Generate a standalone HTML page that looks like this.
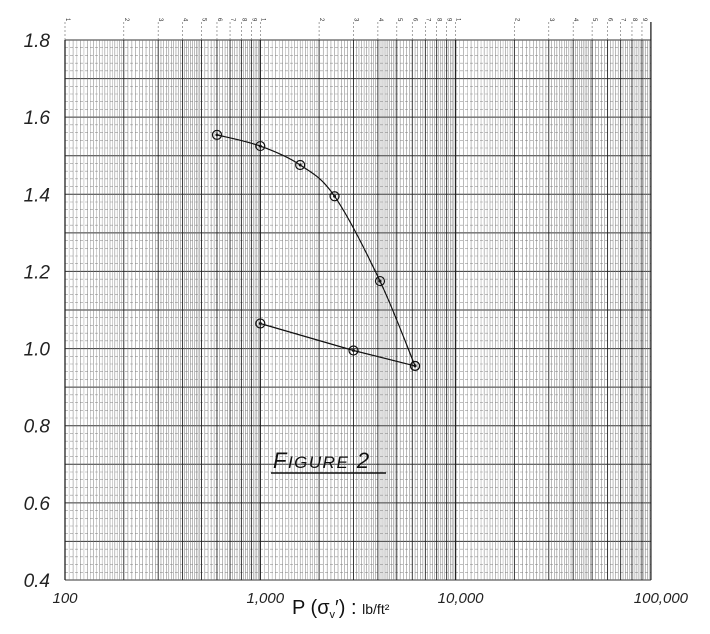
<!DOCTYPE html>
<html><head><meta charset="utf-8"><style>
html,body{margin:0;padding:0;background:#fff;}
svg{display:block;}
text{font-family:"Liberation Sans",sans-serif;}
</style></head><body>
<svg id="chart" width="710" height="634" viewBox="0 0 710 634" xmlns="http://www.w3.org/2000/svg">
<g id="grid"></g>
<g id="ticks"></g>
<g id="series"></g>
<text x="273" y="468" font-size="22" font-style="italic" letter-spacing="1.5" fill="#111">F<tspan font-size="17">IGURE</tspan> 2</text>
<line x1="271" y1="473" x2="386" y2="473" stroke="#111" stroke-width="1.5"/>
<text x="292" y="614" font-size="20" fill="#111">P (σ<tspan font-size="11" dy="4">v</tspan><tspan dy="-4">′</tspan>) : <tspan font-size="14">lb/ft²</tspan></text>
</svg>
<script>
const loadCurveP = [600, 1000, 1600, 2400, 4100, 6200];
const loadCurveE = [1.554, 1.525, 1.476, 1.395, 1.175, 0.955];
const unloadCurveP = [6200, 3000, 1000];
const unloadCurveE = [0.955, 0.995, 1.065];
const yTicks = [0.4, 0.6, 0.8, 1.0, 1.2, 1.4, 1.6, 1.8];
const yTickLabels = ["0.4","0.6","0.8","1.0","1.2","1.4","1.6","1.8"];
const xTicks = [100, 1000, 10000, 100000];
const xTickLabels = ["100","1,000","10,000","100,000"];

const NS="http://www.w3.org/2000/svg";
const X0=65, DEC=195.3, Y0=40, YB=580, YMAX=1.8, YMIN=0.4;
function xs(p){return X0+(Math.log10(p)-2)*DEC;}
function ys(e){return Y0+(YMAX-e)/(YMAX-YMIN)*(YB-Y0);}
function mk(tag,attrs,parent){const el=document.createElementNS(NS,tag);for(const k in attrs)el.setAttribute(k,attrs[k]);parent.appendChild(el);return el;}
const grid=document.getElementById('grid'), ticks=document.getElementById('ticks'), series=document.getElementById('series');
const XR=xs(100000);
for(let i=0;i<=70;i++){
  const e=YMIN+i*0.02, y=ys(e);
  const major = i%5===0;
  const l=mk('line',{x1:X0,x2:XR,y1:y,y2:y,stroke:major?'#333':'#999','stroke-width':major?1:0.6,'stroke-dasharray':major?'':'3 2'},grid);
  
  
}
for(let d=0;d<3;d++){
  const base=Math.pow(10,2+d);
  const vals=[];
  for(let k=100;k<200;k+=5)vals.push(k);
  for(let k=200;k<500;k+=10)vals.push(k);
  for(let k=500;k<1000;k+=20)vals.push(k);
  vals.forEach(k=>{
    const v=k/100;
    const x=xs(base*v);
    const isInt=k%100===0;
    const l=mk('line',{x1:x,x2:x,y1:Y0,y2:YB,stroke:isInt?'#222':'#777','stroke-width':isInt?(k===100?1.3:0.9):(k%10===0?0.5:0.35)},grid);
    
    
    if(isInt){
      const t=mk('line',{x1:x,x2:x,y1:Y0-18,y2:Y0,stroke:'#666','stroke-width':0.6,'stroke-dasharray':'2 2'},grid);
      
      
      const tl=mk('text',{x:x+1,y:Y0-22,'font-size':6,fill:'#333',transform:`rotate(90 ${x+1} ${Y0-22})`},grid);
      
      
      tl.textContent=String(k/100);
    }
  });
}
{const x=XR;const l=mk('line',{x1:x,x2:x,y1:Y0-18,y2:YB,stroke:'#222','stroke-width':1.3},grid);

}
yTicks.forEach((e,i)=>{
  const t=mk('text',{x:50,y:ys(e)+7,'font-size':19,'text-anchor':'end','font-style':'italic',fill:'#222'},ticks);
  
  
  t.textContent=yTickLabels[i];
});
xTicks.forEach((p,i)=>{
  const t=mk('text',{x:xs(p)+(i===0?0:i===3?10:5),y:603,'font-size':15,'text-anchor':'middle','font-style':'italic',fill:'#222'},ticks);
  
  
  t.textContent=xTickLabels[i];
});
function drawCurve(P,E,name,smooth){
  const pts=P.map((p,i)=>[xs(p),ys(E[i])]);
  let d='M'+pts[0][0]+','+pts[0][1];
  for(let i=1;i<pts.length;i++){
    if(!smooth){d+=` L${pts[i][0]},${pts[i][1]}`;continue;}
    const p0=pts[Math.max(0,i-2)],p1=pts[i-1],p2=pts[i],p3=pts[Math.min(pts.length-1,i+1)];
    const c1=[p1[0]+(p2[0]-p0[0])/6,p1[1]+(p2[1]-p0[1])/6], c2=[p2[0]-(p3[0]-p1[0])/6,p2[1]-(p3[1]-p1[1])/6];
    d+=` C${c1[0]},${c1[1]} ${c2[0]},${c2[1]} ${p2[0]},${p2[1]}`;
  }
  const path=mk('path',{d:d,fill:'none',stroke:'#111','stroke-width':1.2},series);
  
  
  pts.forEach(p=>{
    const c=mk('circle',{cx:p[0],cy:p[1],r:4.5,fill:'none',stroke:'#111','stroke-width':1.2},series);
    
    
    const c2=mk('circle',{cx:p[0],cy:p[1],r:1.5,fill:'#111'},series);
    
    
  });
}
drawCurve(loadCurveP,loadCurveE,'loading-curve',true);
drawCurve(unloadCurveP,unloadCurveE,'unloading-curve',false);
</script>
</body></html>
